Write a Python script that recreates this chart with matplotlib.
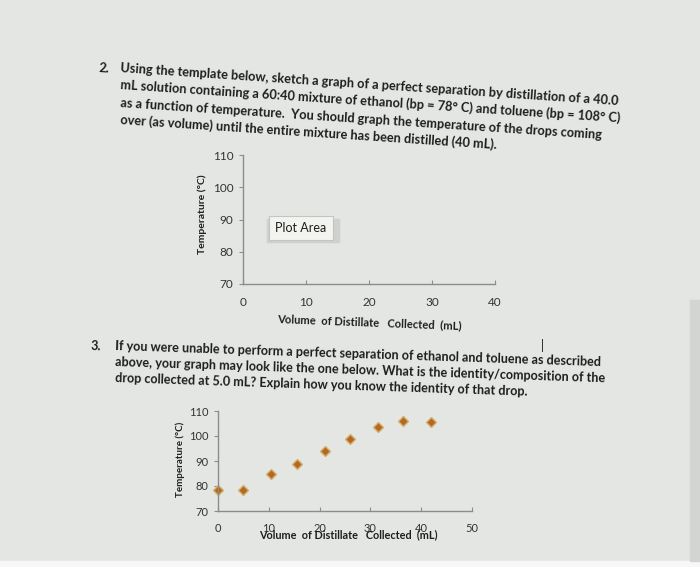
import numpy as np
import matplotlib
matplotlib.use('Agg')
import matplotlib.pyplot as plt
from matplotlib.patches import Rectangle

W, H = 700, 567

# data for the second (imperfect separation) chart
vol_ml = [0, 5, 10.5, 15.5, 21, 26, 31.5, 36.5, 42]
temp_c = [78.5, 78.5, 85, 89, 94, 98.8, 103.6, 106, 105.7]

# axis ticks
t_ticks = [70, 80, 90, 100, 110]
x_ticks_top = [0, 10, 20, 30, 40]
x_ticks_bot = [0, 10, 20, 30, 40, 50]

q2_lines = [
    "Using the template below, sketch a graph of a perfect separation by distillation of a 40.0",
    "mL solution containing a 60:40 mixture of ethanol (bp = 78\u00b0 C) and toluene (bp = 108\u00b0 C)",
    "as a function of temperature.  You should graph the temperature of the drops coming",
    "over (as volume) until the entire mixture has been distilled (40 mL).",
]
q3_lines = [
    "If you were unable to perform a perfect separation of ethanol and toluene as described",
    "above, your graph may look like the one below. What is the identity/composition of the",
    "drop collected at 5.0 mL? Explain how you know the identity of that drop.",
]

plt.rcParams['font.family'] = ['Lato', 'DejaVu Sans']
ink = '#1e1e1e'
bg = '#e4e6e3'

fig = plt.figure(figsize=(W / 100, H / 100), dpi=100, facecolor=bg)


def px(x, y):
    return x / W, 1 - y / H


def ftext(x, y, s, **kw):
    return fig.text(*px(x, y), s, **kw)


def frect(x0, y0, x1, y1, **kw):
    fig.patches.append(Rectangle(px(x0, y1), (x1 - x0) / W, (y1 - y0) / H,
                                 transform=fig.transFigure, **kw))


# white strip at the bottom and shading on the right edge of the photo
frect(0, 561, W, H, color='#f7f7f7', zorder=0)
frect(690, 300, W, 561, color='#d3d5d3', zorder=0)

# question 2 text
ftext(98, 72, "2.", fontsize=9.3, color=ink, fontweight='bold',
      rotation=-3.8, rotation_mode='anchor')
for i, line in enumerate(q2_lines):
    ftext(120, 72 + i * 17.3, line, fontsize=9.2, color=ink, fontweight='bold',
          rotation=-3.8, rotation_mode='anchor', ha='left', va='baseline')

# question 3 text
ftext(91, 350, "3.", fontsize=9.1, color=ink, fontweight='bold',
      rotation=-1.9, rotation_mode='anchor')
for i, line in enumerate(q3_lines):
    ftext(115, 350 + i * 16.2, line, fontsize=9.1, color=ink, fontweight='bold',
          rotation=-1.9, rotation_mode='anchor', ha='left', va='baseline')
ftext(541, 350, "|", fontsize=9, color=ink)


def style_axes(ax, size):
    ax.set_facecolor('none')
    for s in ['top', 'right']:
        ax.spines[s].set_visible(False)
    for s in ['left', 'bottom']:
        ax.spines[s].set_color('#8c8c8c')
        ax.spines[s].set_linewidth(1.0)
    ax.tick_params(axis='y', direction='out', length=3, width=0.8, color='#8c8c8c',
                   labelsize=size, labelcolor='#333333', pad=4)
    ax.tick_params(axis='x', direction='in', length=3, width=0.8, color='#8c8c8c',
                   labelsize=size, labelcolor='#333333', pad=9)


# template chart (empty)
ax1 = fig.add_axes([243 / W, 1 - 284 / H, 252 / W, 129 / H])
ax1.set_xlim(0, 40)
ax1.set_ylim(70, 110)
ax1.set_xticks(x_ticks_top)
ax1.set_yticks(t_ticks)
style_axes(ax1, 8.5)
ftext(369, 326, "Volume  of Distillate   Collected  (mL)", fontsize=8, color=ink,
      fontweight='bold', ha='center', va='baseline', rotation=-2.2, rotation_mode='anchor')
ftext(202, 214, "Temperature (\u00b0C)", fontsize=7.5, color=ink, fontweight='bold',
      ha='center', va='center', rotation=90)
# "Plot Area" label with a soft shadow
frect(267, 219, 339, 242, color='#d0d1ce', zorder=1)
ftext(301, 228, "Plot Area", fontsize=9, color=ink, ha='center', va='center', zorder=2,
      bbox=dict(boxstyle='square,pad=0.5', fc='#f3f3f0', ec='#c4c4c4', lw=0.8))

# imperfect separation chart
ax2 = fig.add_axes([218 / W, 1 - 511 / H, 254 / W, 100 / H])
ax2.set_xlim(0, 50)
ax2.set_ylim(70, 110)
ax2.set_xticks(x_ticks_bot)
ax2.set_yticks(t_ticks)
style_axes(ax2, 8)
ax2.plot(vol_ml, temp_c, linestyle='none', marker='D', markersize=5.5,
         markerfacecolor='#b06a22', markeredgecolor='#d8ae6c', markeredgewidth=1.0,
         clip_on=False)
ftext(348, 538, "Volume  of Distillate   Collected  (mL)", fontsize=7.8, color=ink,
      fontweight='bold', ha='center', va='baseline')
ftext(180, 459, "Temperature (\u00b0C)", fontsize=7, color=ink, fontweight='bold',
      ha='center', va='center', rotation=90)

fig.savefig('out.png', dpi=100, facecolor=bg)
